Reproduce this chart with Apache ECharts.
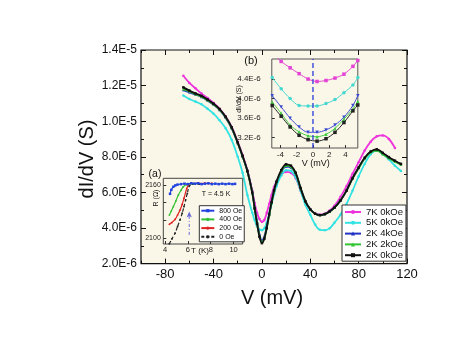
<!DOCTYPE html>
<html>
<head>
<meta charset="utf-8">
<script src="https://cdn.jsdelivr.net/npm/echarts@6/dist/echarts.min.js"></script>
<style>
html,body{margin:0;padding:0;background:#ffffff;}
#c{width:474px;height:355px;background:#ffffff;}
</style>
</head>
<body>
<div id="c"></div>
<script>
// ---------- Main plot data (V in mV, dI/dV in units of 1E-6 S) ----------
const mainV = [-65,-60,-55,-50,-45,-40,-35,-30,-25,-20,-16,-12,-8,-6,-4,-2,0,2,4,6,8,10,12,16,20,24,28,32,36,40,44,48,52,56,60,65,70,75,80,85,90,95,100,105,110,115];
const g7K0 = [12.55,12.15,11.85,11.55,11.3,11.02,10.7,10.27,9.68,8.85,8.1,7.25,6.1,5.4,4.85,4.5,4.35,4.45,4.85,5.35,5.85,6.3,6.6,7.0,7.15,7.1,6.8,6.1,5.45,5.05,4.82,4.75,4.8,4.98,5.25,5.75,6.35,7.05,7.7,8.35,8.85,9.15,9.2,9.0,8.5,null];
const g5K0 = [11.45,11.25,11.1,10.95,10.7,10.42,10.05,9.6,8.95,8.0,7.1,5.85,4.85,4.45,4.1,3.92,3.88,3.98,4.3,4.75,5.35,5.9,6.35,6.95,7.25,7.2,6.85,6.1,5.3,4.75,4.2,3.9,3.88,3.98,4.3,4.75,5.35,6.1,6.9,7.6,8.15,8.35,8.15,7.85,7.5,7.2];
const g2K4 = [11.75,11.62,11.5,11.36,11.16,10.93,10.63,10.2,9.6,8.76,8.02,7.2,6.02,5.15,4.35,3.65,3.3,3.52,4.08,4.78,5.45,6.05,6.52,7.15,7.45,7.4,7.02,6.22,5.5,5.05,4.8,4.73,4.78,4.93,5.15,5.55,6.1,6.8,7.38,7.92,8.28,8.38,8.2,7.95,7.75,7.58];
const g2K2 = [11.8,11.68,11.52,11.38,11.18,10.95,10.65,10.22,9.62,8.78,8.02,7.18,5.98,5.1,4.28,3.55,3.2,3.42,4.0,4.72,5.42,6.05,6.55,7.18,7.5,7.44,7.05,6.22,5.5,5.05,4.8,4.73,4.78,4.93,5.15,5.55,6.1,6.78,7.35,7.9,8.25,8.35,8.15,7.92,7.72,7.55];
const g2K0 = [11.9,11.72,11.56,11.42,11.22,10.98,10.68,10.25,9.65,8.8,8.05,7.2,6.0,5.1,4.25,3.5,3.15,3.4,4.0,4.75,5.45,6.1,6.6,7.25,7.58,7.5,7.1,6.25,5.5,5.05,4.8,4.72,4.78,4.93,5.15,5.55,6.1,6.8,7.4,7.95,8.3,8.42,8.22,7.98,7.78,7.6];
const mainNames = ['7K 0kOe','5K 0kOe','2K 4kOe','2K 2kOe','2K 0kOe'];
const mainXTicks = [-80,-40,0,40,80,120];
const mainXMinor = [-100,-60,-20,20,60,100];

// ---------- Inset (a): R (Ohm) vs T (K) ----------
const t800 = [4.44,4.55,4.73,4.9,5.1,5.4,5.7,6.0,6.3,6.6,6.9,7.2,7.5,7.8,8.1,8.4,8.7,9.0,9.3,9.6,9.9,10.13];
const r800 = [2150,2154.5,2158,2159.5,2160.5,2161,2161.5,2161,2162,2161.5,2162,2161,2161.5,2162,2161,2161.5,2161,2161.5,2161,2161.5,2161,2161.3];
const t400 = [4.38,4.55,4.73,4.95,5.16,5.4,5.6,5.9,6.2,6.5];
const r400 = [2126,2130.5,2135.5,2142,2148.5,2154,2158,2160.5,2161.5,2161.5];
const t200 = [4.38,4.6,4.88,5.1,5.31,5.5,5.66,5.9,6.04,6.3,6.6,6.9,7.2,7.5,7.8,8.1];
const r200 = [2115.5,2117.5,2121,2126,2131.5,2138,2145,2156,2160,2162,2161.5,2162.5,2161.5,2162,2161.5,2162];
const t0 = [4.38,4.6,4.88,5.1,5.31,5.5,5.66,5.8,5.95,6.13,6.4,6.7,7.0];
const r0 = [2093.5,2099,2105.5,2113,2120.5,2128,2135.5,2143,2150.5,2159,2161,2161.5,2161];
const insetANames = ['800 Oe','400 Oe','200 Oe','0 Oe'];
const insetAXTicks = [4,6,8,10];
const insetAYLabels = [2100,2160];
const insetAYTicks = [2100,2120,2140,2160];
const tcT = 6.12;
const tcArrowR = [2103.5, 2130];
const tcLabelR = 2098;

// ---------- Inset (b): low-bias dI/dV (1E-6 S) ----------
const bV = [-5.0,-3.9,-2.8,-1.7,-0.6,0.5,1.6,2.7,3.8,4.9,5.5];
const b7K0 = [4.93,4.76,4.63,4.51,4.40,4.35,4.37,4.42,4.50,4.66,4.78];
const b5K0 = [4.43,4.20,4.00,3.86,3.85,3.85,3.90,3.98,4.12,4.28,4.43];
const b2K4 = [4.06,3.83,3.60,3.42,3.31,3.31,3.36,3.46,3.62,3.86,4.06];
const b2K2 = [3.93,3.70,3.46,3.32,3.24,3.22,3.27,3.39,3.58,3.79,3.94];
const b2K0 = [3.86,3.64,3.42,3.25,3.16,3.13,3.18,3.31,3.51,3.75,3.87];
const insetBXTicks = [-4,-2,0,2,4];
const insetBYTicks = [3.2,3.6,4.0,4.4];
const bZeroLine = [0, 0];

// ---------- build ----------
const FONT = '"Liberation Sans", Arial, sans-serif';
const CREAM = '#fbf7e8';
const pairs = (xs, ys) => xs.map((x, i) => [x, ys[i]]);
const mainFmt = v => v >= 10 ? (v / 10).toFixed(1) + 'E-5' : v.toFixed(1) + 'E-6';
const ZI = 20; // z for insets
const NOLINE = {show: false, onZero: false};

const mainCols = ['#ee33dd','#33e3e3','#2233c4','#33c433','#111111'];
const mainSyms = ['circle','circle','triangle','triangle','rect'];
const mainData = [g7K0, g5K0, g2K4, g2K2, g2K0];
const bData = [b7K0, b5K0, b2K4, b2K2, b2K0];
const bCols = ['#e444d6','#44d8d0','#3c4cd0','#44cc44','#222222'];
const bSyms = ['rect','circle','triangle','triangle','rect'];
const bRot = [0,0,180,0,0];

const series = [];
mainData.forEach((d, i) => {
  series.push({
    name: mainNames[i], type: 'line', xAxisIndex: 0, yAxisIndex: 0,
    data: pairs(mainV, d), smooth: 0.35, connectNulls: false,
    symbol: mainSyms[i], symbolSize: 2.5, showSymbol: true,
    lineStyle: {color: mainCols[i], width: 1.8}, itemStyle: {color: mainCols[i]},
    z: 2 + i * 0.1
  });
});

const aT = [t800, t400, t200, t0], aR = [r800, r400, r200, r0];
const aCols = ['#2242e0','#33c033','#e02222','#222222'];
const aSyms = ['rect','circle','circle','circle'];
aT.forEach((t, i) => {
  series.push({
    name: insetANames[i], type: 'line', xAxisIndex: 1, yAxisIndex: 1, z: ZI + 2 + (3 - i) * 0.1,
    data: pairs(t, aR[i]), smooth: 0.2, symbol: aSyms[i], symbolSize: i === 0 ? 2.5 : 1.8,
    lineStyle: {color: aCols[i], width: 1.2, type: i === 3 ? [3, 2] : 'solid'}, itemStyle: {color: aCols[i]}
  });
});
// Tc arrow (dash-dot, pointing up) and its label
series.push({
  name: 'Tc', type: 'line', xAxisIndex: 1, yAxisIndex: 1, z: ZI + 3, silent: true,
  data: [
    {value: [tcT, tcArrowR[0]], symbol: 'none'},
    {value: [tcT, tcArrowR[1]], symbol: 'arrow', symbolSize: [4, 6]}
  ],
  lineStyle: {color: '#6a6ad8', type: [3, 2, 1, 2], width: 1}, itemStyle: {color: '#6a6ad8'},
  markPoint: {
    silent: true, symbol: 'circle', symbolSize: 1, itemStyle: {color: 'rgba(0,0,0,0)'},
    label: {show: true, position: 'inside', formatter: 'T{s|c}', color: '#333', fontSize: 7.5, fontFamily: FONT,
      rich: {s: {fontSize: 5.5, fontFamily: FONT, color: '#333', padding: [4, 0, 0, 0]}}},
    data: [{coord: [tcT, tcLabelR]}]
  }
});

bData.forEach((d, i) => {
  series.push({
    name: 'b ' + mainNames[i], type: 'line', xAxisIndex: 2, yAxisIndex: 2, z: ZI + 2 + i * 0.1,
    data: pairs(bV, d), smooth: 0.3, symbol: bSyms[i], symbolSize: 3.5, symbolRotate: bRot[i],
    lineStyle: {color: bCols[i], width: 1}, itemStyle: {color: bCols[i]}
  });
});
// dashed V = 0 guide in inset (b)
series.push({
  name: 'zero', type: 'line', xAxisIndex: 2, yAxisIndex: 2, z: ZI + 3, silent: true,
  data: [[bZeroLine[0], 2.99], [bZeroLine[1], 4.81]], symbol: 'none',
  lineStyle: {color: '#2a3ad8', type: [5, 3], width: 1.3}
});

const txt = (text, x, y, size, rot) => ({
  type: 'text', x: x, y: y, rotation: rot || 0, z: ZI + 10, silent: true,
  style: {text: text, fontSize: size, fontFamily: FONT, fill: '#111',
    align: 'center', verticalAlign: 'middle', textAlign: 'center', textVerticalAlign: 'middle'}
});

const option = {
  animation: false,
  backgroundColor: '#ffffff',
  textStyle: {fontFamily: FONT},
  grid: [
    {left: 141, top: 50, width: 266, height: 213.6, show: true, backgroundColor: CREAM, borderColor: '#111', borderWidth: 1.2, z: 0},
    {left: 163.3, top: 178.3, width: 79.4, height: 65.7, show: true, backgroundColor: CREAM, borderColor: '#444', borderWidth: 1, z: ZI},
    {left: 271.8, top: 59, width: 86, height: 89, show: true, backgroundColor: CREAM, borderColor: '#555', borderWidth: 1, z: ZI}
  ],
  xAxis: [
    {gridIndex: 0, type: 'value', position: 'bottom', min: -100, max: 120,
     axisLine: NOLINE, splitLine: {show: false},
     axisTick: {show: true, inside: true, length: 5, customValues: mainXTicks, lineStyle: {color: '#111'}},
     axisLabel: {show: true, customValues: mainXTicks, fontSize: 13, color: '#111', margin: 4}},
    {gridIndex: 1, type: 'value', position: 'bottom', min: 3.85, max: 10.8, z: ZI + 1,
     axisLine: NOLINE, splitLine: {show: false},
     axisTick: {show: true, inside: true, length: 3, customValues: insetAXTicks, lineStyle: {color: '#333'}},
     axisLabel: {show: true, customValues: insetAXTicks, fontSize: 7.5, color: '#222', margin: 1.5, formatter: v => String(v)}},
    {gridIndex: 2, type: 'value', position: 'bottom', min: -5.05, max: 5.5, z: ZI + 1,
     axisLine: NOLINE, splitLine: {show: false},
     axisTick: {show: true, inside: true, length: 3, customValues: insetBXTicks, lineStyle: {color: '#333'}},
     axisLabel: {show: true, customValues: insetBXTicks, fontSize: 8, color: '#222', margin: 2.5, formatter: v => String(v)}},
    {gridIndex: 0, type: 'value', position: 'bottom', min: -100, max: 120,
     axisLine: NOLINE, splitLine: {show: false}, axisLabel: {show: false},
     axisTick: {show: true, inside: true, length: 3, customValues: mainXMinor, lineStyle: {color: '#111'}}},
    {gridIndex: 0, type: 'value', position: 'top', min: -100, max: 120,
     axisLine: NOLINE, splitLine: {show: false}, axisLabel: {show: false},
     axisTick: {show: true, inside: true, length: 5, customValues: mainXTicks, lineStyle: {color: '#111'}}},
    {gridIndex: 0, type: 'value', position: 'top', min: -100, max: 120,
     axisLine: NOLINE, splitLine: {show: false}, axisLabel: {show: false},
     axisTick: {show: true, inside: true, length: 3, customValues: mainXMinor, lineStyle: {color: '#111'}}}
  ],
  yAxis: [
    {gridIndex: 0, type: 'value', position: 'left', min: 2, max: 14, interval: 2,
     axisLine: NOLINE, splitLine: {show: false},
     axisTick: {show: true, inside: true, length: 5, lineStyle: {color: '#111'}},
     minorTick: {show: true, splitNumber: 2, length: 3, lineStyle: {color: '#111'}},
     axisLabel: {fontSize: 12, color: '#111', margin: 4, formatter: mainFmt}},
    {gridIndex: 1, type: 'value', position: 'left', min: 2093.2, max: 2167.6, z: ZI + 1,
     axisLine: NOLINE, splitLine: {show: false},
     axisTick: {show: true, inside: true, length: 3, customValues: insetAYTicks, lineStyle: {color: '#333'}},
     axisLabel: {show: true, customValues: insetAYLabels, fontSize: 7, color: '#222', margin: 2.5, formatter: v => String(v)}},
    {gridIndex: 2, type: 'value', position: 'left', min: 2.99, max: 4.81, z: ZI + 1,
     axisLine: NOLINE, splitLine: {show: false},
     axisTick: {show: true, inside: true, length: 3, customValues: insetBYTicks, lineStyle: {color: '#333'}},
     axisLabel: {show: true, customValues: insetBYTicks, fontSize: 8, color: '#222', margin: 11,
       formatter: v => v.toFixed(1) + 'E-6'}},
    {gridIndex: 0, type: 'value', position: 'right', min: 2, max: 14, interval: 2,
     axisLine: NOLINE, splitLine: {show: false}, axisLabel: {show: false},
     axisTick: {show: true, inside: true, length: 5, lineStyle: {color: '#111'}},
     minorTick: {show: true, splitNumber: 2, length: 3, lineStyle: {color: '#111'}}}
  ],
  legend: [
    {data: mainNames, orient: 'vertical', left: 342, top: 205, z: ZI + 5,
     itemWidth: 16, itemHeight: 5, itemGap: 0.8, padding: [2, 3, 1, 2],
     backgroundColor: '#ffffff', borderColor: '#333', borderWidth: 1, borderRadius: 0,
     textStyle: {fontSize: 9.5, color: '#111', lineHeight: 10, fontFamily: FONT}, selectedMode: false},
    {data: insetANames, orient: 'vertical', left: 199.3, top: 205.7, z: ZI + 5,
     itemWidth: 13, itemHeight: 4, itemGap: 0.7, padding: [1, 2, 1, 1],
     backgroundColor: '#ffffff', borderColor: '#333', borderWidth: 1, borderRadius: 0,
     textStyle: {fontSize: 7, color: '#111', lineHeight: 8, fontFamily: FONT}, selectedMode: false}
  ],
  graphic: [
    txt('dI/dV (S)', 87, 159, 20, Math.PI / 2),
    txt('V (mV)', 272, 298, 20, 0),
    txt('(a)', 155, 174, 10.5, 0),
    txt('(b)', 251, 61, 11, 0),
    txt('T = 4.5 K', 216, 194.5, 7, 0),
    txt('R (\u03A9)', 156, 198, 7, Math.PI / 2),
    txt('T (K)', 200, 250.5, 8, 0),
    txt('V (mV)', 315.8, 164, 9, 0),
    txt('dI/dV (S)', 239.5, 99, 7, Math.PI / 2)
  ],
  series: series
};

const chart = echarts.init(document.getElementById('c'), null, {renderer: 'canvas'});
chart.setOption(option);
</script>
</body>
</html>
